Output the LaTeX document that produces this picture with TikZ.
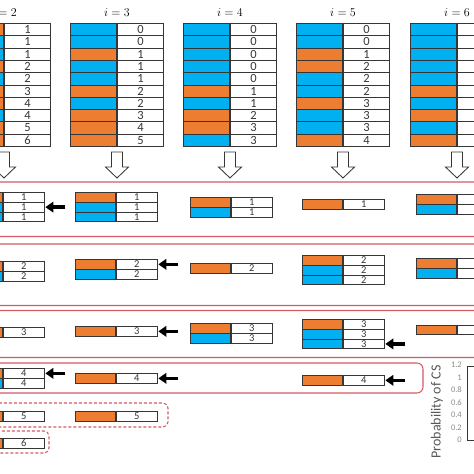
\documentclass[tikz,border=0pt]{standalone}
\usepackage{fontspec}
\newfontfamily\calib{Carlito}
\usetikzlibrary{arrows.meta}
\definecolor{corange}{HTML}{ED7D31}
\definecolor{cblue}{HTML}{00B0F0}
\definecolor{cred}{RGB}{212,90,100}
\definecolor{cline}{HTML}{363636}
\definecolor{cgray}{HTML}{595959}
\definecolor{ctick}{HTML}{8C8C8C}
\tikzset{
  ccell/.style={draw=cline, line width=0.85pt, inner sep=0pt},
  ncell/.style={draw=cline, line width=0.85pt, fill=white, inner sep=0pt, text=cline},
  bignum/.style={font=\calib\fontsize{12.5}{12.5}\selectfont},
  smallnum/.style={font=\calib\fontsize{10.5}{10.5}\selectfont},
  grpbox/.style={draw=cred, line width=1.05pt, rounded corners=6pt},
  grpdash/.style={draw=cred, line width=1.05pt, rounded corners=5pt, dash pattern=on 3pt off 2pt},
  blkarrow/.style={draw=black, line width=3.6pt, -{Triangle[length=8pt,width=10.5pt]}, shorten >=1pt},
  hollowarr/.style={draw=cline, line width=0.85pt, fill=white},
  title/.style={font=\fontsize{11.5}{11.5}\selectfont},
  downarr/.pic={\draw[hollowarr] (-5.5,0) -- (5.5,0) -- (5.5,15) -- (11.5,15) -- (0,26) -- (-11.5,15) -- (-5.5,15) -- cycle;}
}
% #1 name, #2 sep x, #3 top y, #4 half width, #5 row height, #6 font style, #7 list
\newcommand\mytbl[7]{%
  \foreach \c/\n [count=\k] in {#7}{%
    \node[ccell, fill=\c, minimum width=#4pt, minimum height=#5pt, anchor=north east] (#1-\k-c) at (#2, {#3+(\k-1)*#5}) {};
    \node[ncell, #6, minimum width=#4pt, minimum height=#5pt, anchor=north west] (#1-\k-n) at (#2, {#3+(\k-1)*#5}) {\n};
  }}
\begin{document}
\begin{tikzpicture}[x=1pt,y=-1pt]
\useasboundingbox (0,0) rectangle (474,474);
\clip (0,0) rectangle (474,474);
\fill[white] (0,0) rectangle (474,474);

% titles
\node[title] (t2) at (4,12.5) {$i=2$};
\node[title] (t3) at (117,12.5) {$i=3$};
\node[title] (t4) at (230,12.5) {$i=4$};
\node[title] (t5) at (343,12.5) {$i=5$};
\node[title] (t6) at (457,12.5) {$i=6$};

% top tables
\mytbl{T2}{4}{23}{46}{12.3}{bignum}{corange/1,cblue/1,cblue/1,corange/2,cblue/2,corange/3,corange/4,cblue/4,corange/5,corange/6}
\mytbl{T3}{117}{23}{46}{12.3}{bignum}{cblue/0,cblue/0,corange/1,cblue/1,cblue/1,corange/2,cblue/2,corange/3,corange/4,corange/5}
\mytbl{T4}{230}{23}{46}{12.3}{bignum}{cblue/0,cblue/0,cblue/0,cblue/0,cblue/0,corange/1,cblue/1,corange/2,corange/3,cblue/3}
\mytbl{T5}{343}{23}{46}{12.3}{bignum}{cblue/0,cblue/0,corange/1,corange/2,cblue/2,cblue/2,corange/3,cblue/3,cblue/3,corange/4}
\mytbl{T6}{457}{23}{46}{12.3}{bignum}{cblue/0,cblue/0,cblue/0,cblue/0,cblue/0,corange/1,cblue/1,corange/2,cblue/2,corange/3}

% down arrows
\pic at (4,152) {downarr};
\pic at (117,152) {downarr};
\pic at (230,152) {downarr};
\pic at (343,152) {downarr};
\pic at (457,152) {downarr};

% group boxes
\draw[grpbox] (-20,182) rectangle (500,236.5);
\draw[grpbox] (-20,244) rectangle (500,305.5);
\draw[grpbox] (-20,310.5) rectangle (500,357.5);
\draw[grpbox] (-20,363) rectangle (423,393);
\draw[grpdash] (-20,403) rectangle (168,427);
\draw[grpdash] (-20,431) rectangle (49,453);

% group 1
\mytbl{A2}{3}{192}{40.5}{9.8}{smallnum}{corange/1,cblue/1,cblue/1}
\mytbl{A3}{116}{192}{40.5}{9.8}{smallnum}{corange/1,cblue/1,cblue/1}
\mytbl{A4}{231}{197}{40.5}{9.8}{smallnum}{corange/1,cblue/1}
\mytbl{A5}{343}{199}{40.5}{9.8}{smallnum}{corange/1}
\mytbl{A6}{457}{194}{40.5}{9.8}{smallnum}{corange/1,cblue/1}
% group 2
\mytbl{B2}{3}{261}{40.5}{9.8}{smallnum}{corange/2,cblue/2}
\mytbl{B3}{116}{259}{40.5}{9.8}{smallnum}{corange/2,cblue/2}
\mytbl{B4}{231}{263}{40.5}{9.8}{smallnum}{corange/2}
\mytbl{B5}{343}{255}{40.5}{9.8}{smallnum}{corange/2,cblue/2,cblue/2}
\mytbl{B6}{457}{258}{40.5}{9.8}{smallnum}{corange/2,cblue/2}
% group 3
\mytbl{C2}{3}{327}{40.5}{9.8}{smallnum}{corange/3}
\mytbl{C3}{116}{326}{40.5}{9.8}{smallnum}{corange/3}
\mytbl{C4}{231}{323}{40.5}{9.8}{smallnum}{corange/3,cblue/3}
\mytbl{C5}{343}{319}{40.5}{9.8}{smallnum}{corange/3,cblue/3,cblue/3}
\mytbl{C6}{457}{324.5}{40.5}{9.8}{smallnum}{corange/3}
% group 4
\mytbl{D2}{3}{368}{40.5}{9.8}{smallnum}{corange/4,cblue/4}
\mytbl{D3}{116}{373}{40.5}{9.8}{smallnum}{corange/4}
\mytbl{D5}{343}{375}{40.5}{9.8}{smallnum}{corange/4}
% group 5
\mytbl{E2}{3}{411}{40.5}{9.8}{smallnum}{corange/5}
\mytbl{E3}{116}{411}{40.5}{9.8}{smallnum}{corange/5}
% group 6
\mytbl{F2}{3}{438}{40.5}{9.8}{smallnum}{corange/6}

% black arrows
\draw[blkarrow] ([xshift=21pt]A2-2-n.east) -- (A2-2-n.east);
\draw[blkarrow] ([xshift=21pt]B3-1-n.east) -- (B3-1-n.east);
\draw[blkarrow] ([xshift=21pt]C3-1-n.east) -- (C3-1-n.east);
\draw[blkarrow] ([xshift=21pt]C5-3-n.east) -- (C5-3-n.east);
\draw[blkarrow] ([xshift=21pt]D2-1-n.east) -- (D2-1-n.east);
\draw[blkarrow] ([xshift=21pt]D3-1-n.east) -- (D3-1-n.east);
\draw[blkarrow] ([xshift=21pt]D5-1-n.east) -- (D5-1-n.east);

% partial chart
\node[rotate=90, text=cgray, font=\calib\fontsize{14}{14}\selectfont] (ylab) at (437,412) {Probability of CS};
\foreach \v/\yy [count=\j] in {1.2/365,1/377.5,0.8/390,0.6/402.5,0.4/415,0.2/427.5,0/440}{
  \node[anchor=east, text=ctick, inner sep=0pt, font=\calib\fontsize{8.5}{8.5}\selectfont] (tk\j) at (462,\yy) {\v};
}
\draw[draw=cline, line width=0.8pt] (520,366) -- (467,366) -- (467,440) -- (520,440);
\end{tikzpicture}
\end{document}
